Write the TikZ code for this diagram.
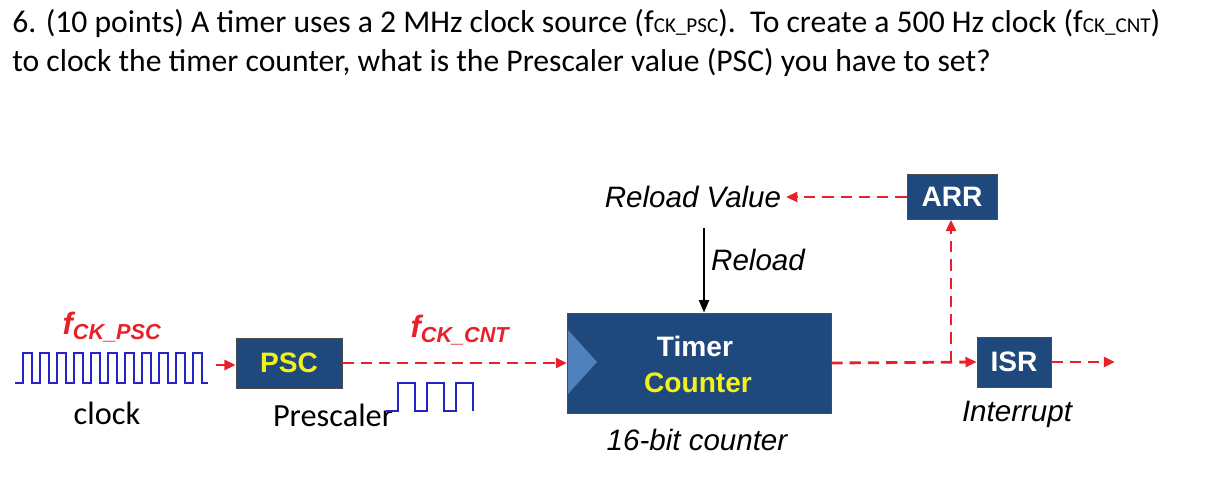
\documentclass[tikz,border=0pt]{standalone}
\usepackage{fontspec}
\setmainfont{Liberation Sans}
\newfontfamily\titlefont{Carlito}
\usetikzlibrary{arrows.meta,positioning}
\definecolor{boxblue}{HTML}{1F487C}
\definecolor{triblue}{HTML}{4F81BD}
\definecolor{sigred}{HTML}{E8202A}
\definecolor{waveblue}{HTML}{2323C8}
\definecolor{txtyellow}{HTML}{F2F21A}

\begin{document}
\begin{tikzpicture}[x=0.025cm,y=-0.025cm,
                    every node/.style={font=\fontsize{20}{24}\selectfont},
                    blk/.style={draw=black!70,fill=boxblue,inner sep=0pt,font=\fontsize{20}{24}\selectfont\bfseries},
                    sig/.style={sigred,dashed,line width=2pt,dash pattern=on 8pt off 5pt,-{Triangle[length=8pt,width=7pt]}},
                    wave/.style={waveblue,line width=1.8pt}]
\useasboundingbox (0,0) rectangle (1208,500);

\node[anchor=north west,align=left,inner sep=0pt,font=\titlefont\fontsize{22.5}{27.5}\selectfont] (title) at (12,9)
  {6. (10 points) A timer uses a 2 MHz clock source (f{\fontsize{15}{17}\selectfont CK\_PSC}).\ \ To create a 500 Hz clock (f{\fontsize{15}{17}\selectfont CK\_CNT})\\to clock the timer counter, what is the Prescaler value (PSC) you have to set?};

\node[blk,minimum width=106*0.025cm,minimum height=50*0.025cm,text=txtyellow] (psc) at (289,363) {PSC};
\node[blk,minimum width=264*0.025cm,minimum height=100*0.025cm] (cnt) at (699,363) {};
\node[blk,minimum width=90*0.025cm,minimum height=45*0.025cm,text=white] (arr) at (952,197) {ARR};
\node[blk,minimum width=74*0.025cm,minimum height=50*0.025cm,text=white] (isr) at (1014,362) {ISR};
\fill[triblue] (568,330) -- (597,362) -- (568,394) -- cycle;
\node[text=white,font=\fontsize{20}{24}\selectfont\bfseries] (timer) at (695,346) {Timer};
\node[text=txtyellow,font=\fontsize{20}{24}\selectfont\bfseries] (counter) at (698,383) {Counter};

\node[font=\fontsize{21}{25}\selectfont\itshape] (rval) at (693,197) {Reload Value};
\node[font=\fontsize{21}{25}\selectfont\itshape] (rld) at (758,260) {Reload};
\node[font=\fontsize{21}{25}\selectfont\itshape] (bits) at (697,440) {16-bit counter};
\node[font=\fontsize{21}{25}\selectfont\itshape] (intr) at (1017,414) {Interrupt};
\node[font=\titlefont\fontsize{23}{27}\selectfont] (clk) at (107,413) {clock};
\node[font=\titlefont\fontsize{23}{27}\selectfont] (pre) at (333,415) {Prescaler};
\node[text=sigred,font=\fontsize{22}{26}\selectfont\bfseries\itshape] (fpsc) at (112,327) {f\textsubscript{CK\_PSC}};
\node[text=sigred,font=\fontsize{22}{26}\selectfont\bfseries\itshape] (fcnt) at (460,330) {f\textsubscript{CK\_CNT}};

% clock waveforms
\coordinate (w0) at (15,383);
\draw[wave] (w0) foreach \i in {0,...,10} {-- ++(8,0) -- ++(0,-30) -- ++(9,0) -- ++(0,30)} -- ++(6,0) coordinate (w1);
\coordinate (s0) at (386,411);
\draw[wave] (s0) foreach \i in {0,1,2} {-- ++(12,0) -- ++(0,-28) -- ++(17,0) -- ++(0,28)} coordinate (s1);

% signal flow
\coordinate (isrout) at (1115,362);
\coordinate (tap) at (951,362);
\draw[sig] (216,365) -- (psc.west|-216,365);
\draw[sig] (psc.east) -- (567,363);
\draw[sig] (cnt.east) -- (isr.west);
\draw[sig] (tap) -- (tap|-arr.south);
\draw[sig] (isr.east) -- (isrout);
\draw[sig] (arr.west) -- (rval.east);
\draw[-{Triangle[length=9pt,width=7pt]},line width=1.8pt] (704,228) -- (cnt.north-|704,0);
\end{tikzpicture}
\end{document}
